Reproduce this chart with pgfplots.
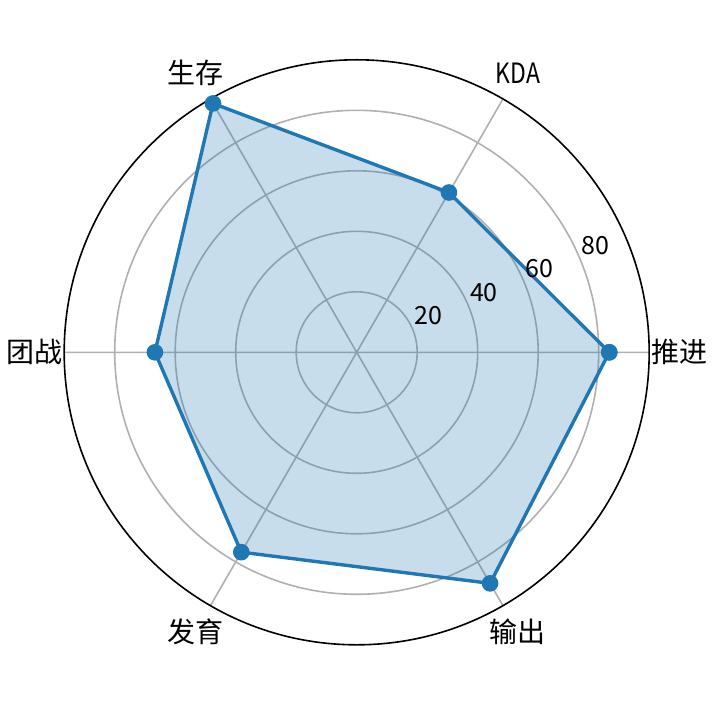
\documentclass[border=0pt]{standalone}
\usepackage{fontspec}
\setmainfont{Noto Sans CJK SC}
\newfontfamily\narrowfont[FakeStretch=0.82]{Noto Sans CJK SC}
\usepackage{pgfplots}
\usepgfplotslibrary{polar}
\pgfplotsset{compat=1.18}
\definecolor{tabblue}{HTML}{1F77B4}
\definecolor{gridgray}{HTML}{B0B0B0}

\begin{document}
\begin{tikzpicture}[x=1pt,y=1pt]
\path[use as bounding box] (-178.35,-174.85) rectangle (181.65,176.15);
\begin{polaraxis}[
    at={(0,0)}, anchor=origin,
    scale only axis, width=292.5pt, height=292.5pt,
    ymin=0, ymax=96.7,
    xtick={0,60,...,300}, ytick={20,40,60,80},
    xticklabels={}, yticklabels={},
    grid=major,
    major grid style={gridgray, line width=0.8pt},
    major tick length=0pt,
    separate axis lines,
    x axis line style={black, line width=0.8pt},
    y axis line style={draw=none},
    clip=false,
]
% polygon fill
\addplot[draw=none, fill=tabblue, fill opacity=0.25, forget plot] coordinates {
    (0,83.5) (60,61) (120,95) (180,66.7) (240,76.3) (300,88.2) (360,83.5)
};
% outline with markers
\addplot[tabblue, line width=1.7pt, line join=round, mark=*, mark size=3.3pt,
    mark options={fill=tabblue}] coordinates {
    (0,83.5) (60,61) (120,95) (180,66.7) (240,76.3) (300,88.2) (360,83.5)
};

% radial tick labels
\pgfplotsinvokeforeach{20,40,60,80}{
    \node[font=\fontsize{12.5}{14}\selectfont, anchor=south west, inner sep=0pt,
        xshift=0.6pt, yshift=2.1pt] at (axis cs:22.5,#1) {#1};
}

% category labels
\node[font=\fontsize{14}{16}\selectfont] at (axis cs:0,106.6) {推进};
\node[font=\narrowfont\fontsize{14}{16}\selectfont] at (axis cs:60,106.6) {KDA};
\node[font=\fontsize{14}{16}\selectfont] at (axis cs:120,106.6) {生存};
\node[font=\fontsize{14}{16}\selectfont] at (axis cs:180,106.6) {团战};
\node[font=\fontsize{14}{16}\selectfont] at (axis cs:240,106.6) {发育};
\node[font=\fontsize{14}{16}\selectfont] at (axis cs:300,106.6) {输出};
\end{polaraxis}
\end{tikzpicture}
\end{document}
